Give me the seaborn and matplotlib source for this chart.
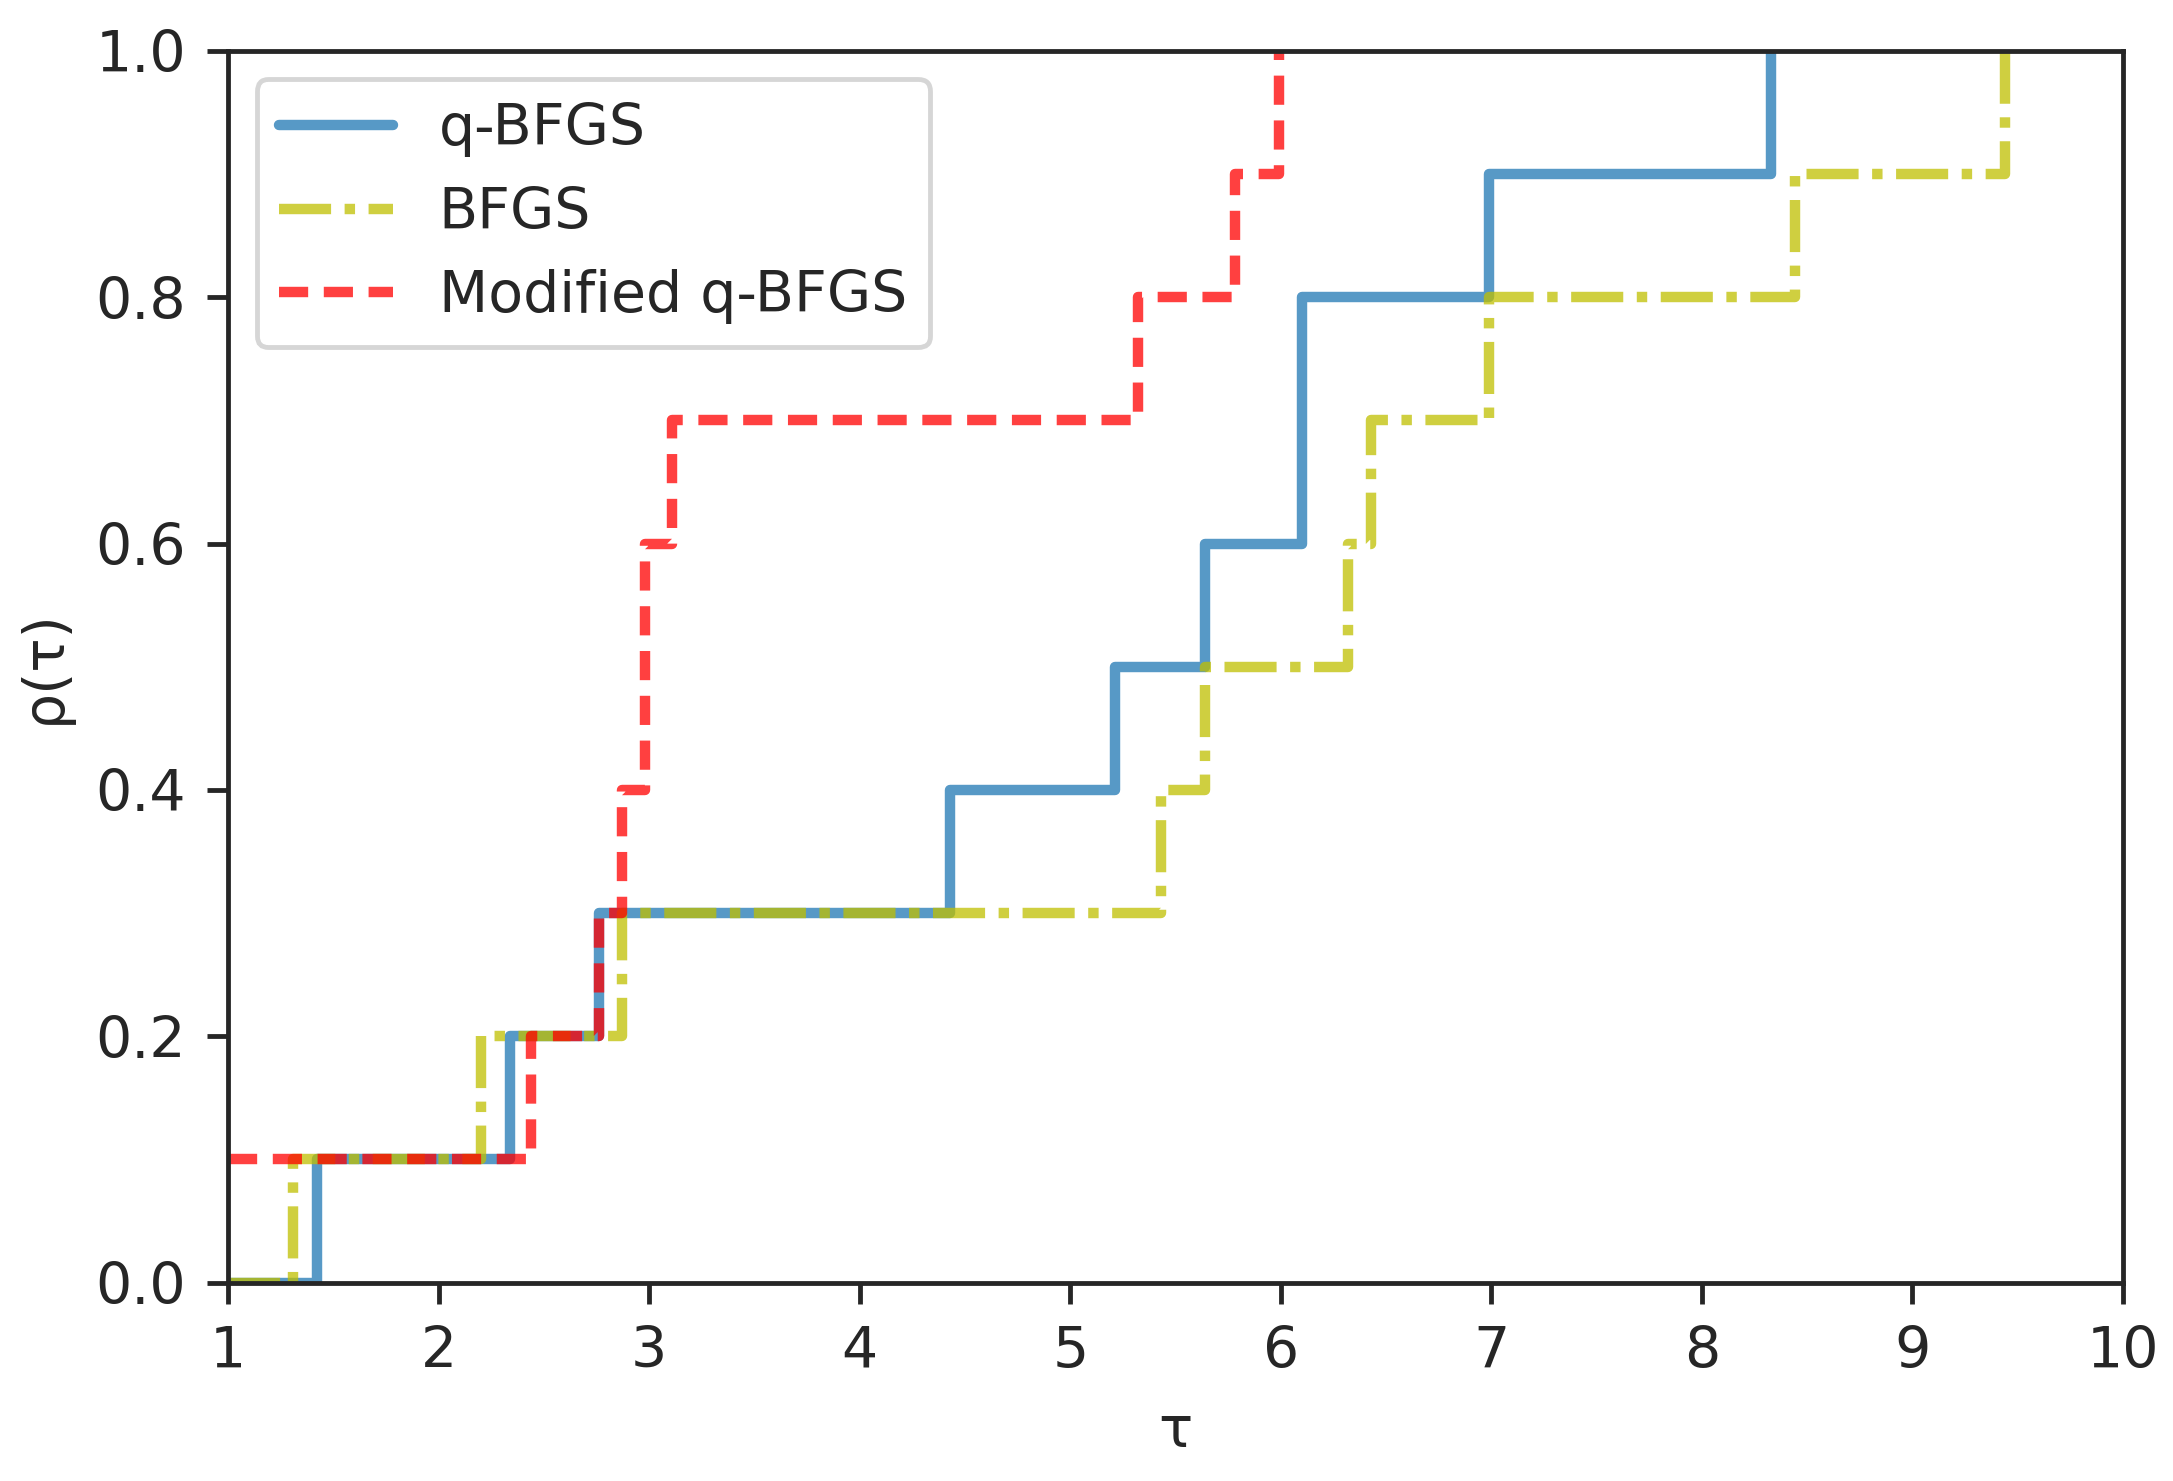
import matplotlib
matplotlib.use("Agg")
import matplotlib.pyplot as plt
import seaborn as sns
import pandas as pd

# Data (performance profiles)
qbfgs_tau = [1.0, 1.42, 2.34, 2.76, 4.43, 5.21, 5.64, 6.10, 6.99, 8.33]
qbfgs_rho = [0.0, 0.1, 0.2, 0.3, 0.4, 0.5, 0.6, 0.8, 0.9, 1.0]

bfgs_tau = [1.0, 1.31, 2.20, 2.87, 5.43, 5.64, 6.32, 6.43, 6.99, 8.44, 9.44]
bfgs_rho = [0.0, 0.1, 0.2, 0.3, 0.4, 0.5, 0.6, 0.7, 0.8, 0.9, 1.0]

mod_tau = [1.0, 2.44, 2.76, 2.87, 2.98, 3.11, 5.32, 5.78, 5.99]
mod_rho = [0.1, 0.2, 0.3, 0.4, 0.6, 0.7, 0.8, 0.9, 1.0]

labels = ["q-BFGS", "BFGS", "Modified q-BFGS"]
x_ticks = [1, 2, 3, 4, 5, 6, 7, 8, 9, 10]
y_ticks = [0.0, 0.2, 0.4, 0.6, 0.8, 1.0]

sns.set_style("ticks")
s = 4.33
fs = 41
plt.rcParams.update({
    "font.family": ["DejaVu Sans"],
    "font.size": fs,
    "axes.linewidth": 0.8 * s,
    "axes.edgecolor": "#262626",
    "xtick.major.size": 3.5 * s,
    "ytick.major.size": 3.5 * s,
    "xtick.major.width": 0.8 * s,
    "ytick.major.width": 0.8 * s,
    "xtick.major.pad": 3.5 * s,
    "ytick.major.pad": 3.5 * s,
    "xtick.labelsize": fs,
    "ytick.labelsize": fs,
    "axes.labelsize": fs,
    "legend.fontsize": fs,
    "axes.labelpad": 4 * s,
    "xtick.color": "#262626",
    "ytick.color": "#262626",
    "axes.labelcolor": "#262626",
    "text.color": "#262626",
})

fig = plt.figure(figsize=(21.73, 14.81), dpi=100)
ax = fig.add_axes([0.105, 0.134, 0.872, 0.8316])

df_q = pd.DataFrame({"tau": qbfgs_tau, "rho": qbfgs_rho})
df_b = pd.DataFrame({"tau": bfgs_tau, "rho": bfgs_rho})
df_m = pd.DataFrame({"tau": mod_tau, "rho": mod_rho})

lw = 7.5
sns.lineplot(data=df_q, x="tau", y="rho", ax=ax, drawstyle="steps-post",
             color="C0", alpha=0.75, lw=lw, linestyle="-", label=labels[0],
             estimator=None, sort=False)
sns.lineplot(data=df_b, x="tau", y="rho", ax=ax, drawstyle="steps-post",
             color="y", alpha=0.75, lw=lw, linestyle=(0, (5.0, 1.3, 1.0, 1.3)),
             label=labels[1], estimator=None, sort=False)
sns.lineplot(data=df_m, x="tau", y="rho", ax=ax, drawstyle="steps-post",
             color="r", alpha=0.75, lw=lw, linestyle=(0, (2.8, 1.5)),
             label=labels[2], estimator=None, sort=False)

ax.set_xlim(1, 10)
ax.set_ylim(0, 1.0)
ax.set_xticks(x_ticks)
ax.set_yticks(y_ticks)
ax.set_xticklabels([str(t) for t in x_ticks])
ax.set_yticklabels([f"{t:.1f}" for t in y_ticks])
ax.set_xlabel("τ")
ax.set_ylabel("ρ(τ)")
for sp in ax.spines.values():
    sp.set_visible(True)

leg = ax.legend(loc="upper left", frameon=True, fancybox=True, framealpha=0.8,
                edgecolor="0.8")
leg.get_frame().set_linewidth(0.8 * s)

fig.savefig("out.png", dpi=100)
